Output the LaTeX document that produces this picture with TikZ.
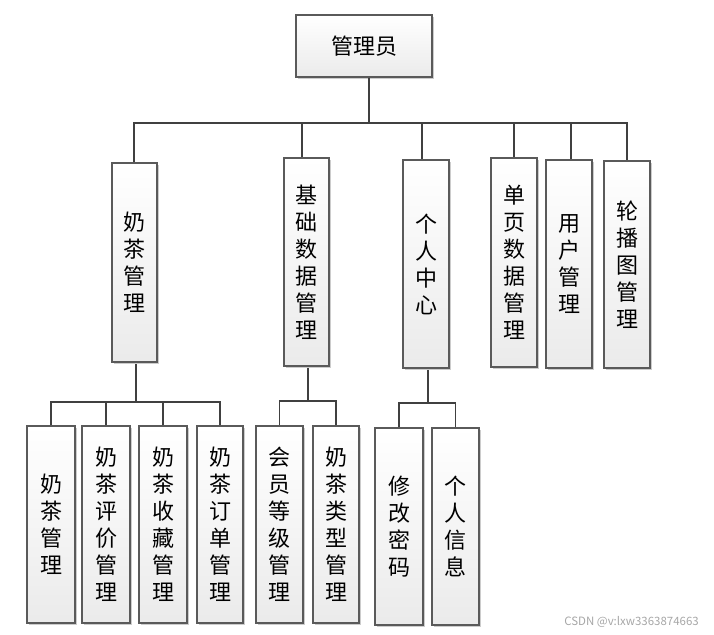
\documentclass[tikz,border=0pt]{standalone}
\usepackage{fontspec}
\newfontfamily\cjk{Noto Sans CJK SC}
\usetikzlibrary{shadows}
\definecolor{linec}{HTML}{404040}
\definecolor{boxc}{HTML}{5A5A5A}
\tikzset{
  box/.style={draw=boxc, line width=0.8pt, top color=white, bottom color=black!8,
    drop shadow={shadow xshift=1.6pt, shadow yshift=-1.6pt, fill=black!20, opacity=1},
    inner sep=0pt, align=center, font=\cjk\fontsize{16.5}{20.25}\selectfont},
  conn/.style={draw=linec, line width=1.3pt},
  wm/.style={text=black!35, font=\cjk\fontsize{8.6}{10}\selectfont, anchor=south east, inner sep=0pt}
}
\newcommand\bx[6]{\node[box, minimum width={(#4-#2)*0.75pt}, minimum height={(#5-#3)*0.75pt}] (#1) at ({(#2+#4)/2},{(#3+#5)/2}) {#6};}
\begin{document}
\begin{tikzpicture}[x=0.75pt,y=-0.75pt]
\useasboundingbox (0,0) rectangle (714,635);
% junctions
\coordinate (j0) at (369,123);
\coordinate (j1) at (136,402);
\coordinate (j2) at (308,401);
\coordinate (j3) at (428,403);
\bx{root}{296}{15}{432}{77}{管理员}
\draw[conn] (root.south -| j0) -- (j0);
\draw[conn] (j1) -- (j1 |- 0,361);
\draw[conn] (j2) -- (j2 |- 0,366);
\draw[conn] (j3) -- (j3 |- 0,367);
\coordinate (t1) at (134,163);
\coordinate (t2) at (302,158);
\coordinate (t3) at (422,160);
\coordinate (t4) at (514,158);
\coordinate (t5) at (571,160);
\coordinate (t6) at (627,161);
\foreach \t in {t1,t2,t3,t4,t5,t6} {\draw[conn] (\t) |- (j0);}
\bx{m1}{112}{163}{157}{362}{奶\\茶\\管\\理}
\bx{m2}{284}{158}{329}{366}{基\\础\\数\\据\\管\\理}
\bx{m3}{403}{160}{449}{368}{个\\人\\中\\心}
\bx{m4}{491}{158}{537}{367}{单\\页\\数\\据\\管\\理}
\bx{m5}{546}{160}{592}{368}{用\\户\\管\\理}
\bx{m6}{604}{161}{650}{368}{轮\\播\\图\\管\\理}
% level 3
\bx{a1}{27}{426}{75}{623}{奶\\茶\\管\\理}
\bx{a2}{82}{426}{130}{623}{奶\\茶\\评\\价\\管\\理}
\bx{a3}{139}{426}{187}{623}{奶\\茶\\收\\藏\\管\\理}
\bx{a4}{197}{426}{243}{623}{奶\\茶\\订\\单\\管\\理}
\bx{b1}{256}{426}{303}{623}{会\\员\\等\\级\\管\\理}
\bx{b2}{313}{426}{359}{623}{奶\\茶\\类\\型\\管\\理}
\bx{c1}{375}{428}{423}{625}{修\\改\\密\\码}
\bx{c2}{432}{428}{479}{625}{个\\人\\信\\息}
\foreach \n in {a1,a2,a3,a4} {\draw[conn] (\n.north) |- (j1);}
\foreach \n in {b1,b2} {\draw[conn] (\n.north) |- (j2);}
\foreach \n in {c1,c2} {\draw[conn] (\n.north) |- (j3);}
\node[wm] (wm) at (699,628) {CSDN @v:lxw3363874663};
\end{tikzpicture}
\end{document}
